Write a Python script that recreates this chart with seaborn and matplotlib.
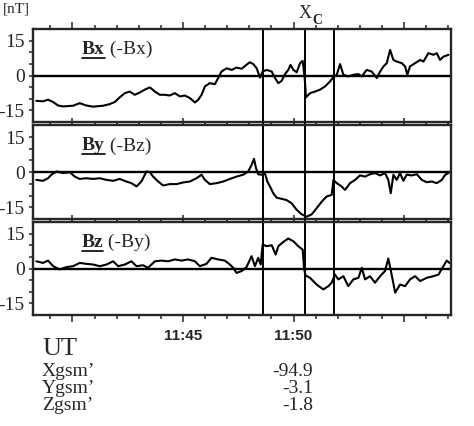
import matplotlib
matplotlib.use("Agg")
import matplotlib.pyplot as plt
import seaborn as sns
from matplotlib.ticker import MultipleLocator
from matplotlib.lines import Line2D

sns.set_style("ticks")
plt.rcParams["font.family"] = ["Liberation Serif", "DejaVu Serif"]

# time in minutes after 11:00 UT, field in nT
t_bx = [38.37, 38.67, 38.90, 39.13, 39.35, 39.58, 40.03, 40.33, 40.63, 40.94, 41.39, 41.69,
        41.92, 42.14, 42.37, 42.59, 42.82, 43.05, 43.27, 43.50, 43.73, 43.95, 44.18, 44.40,
        44.63, 44.86, 45.08, 45.31, 45.54, 45.69, 45.84, 45.99, 46.21, 46.44, 46.59, 46.74,
        46.97, 47.20, 47.42, 47.65, 47.87, 48.02, 48.18, 48.33, 48.48, 48.60, 48.78, 49.01,
        49.16, 49.31, 49.46, 49.61, 49.76, 49.86, 49.99, 50.14, 50.29, 50.41, 50.50, 50.56,
        50.74, 50.97, 51.19, 51.42, 51.64, 51.83, 51.95, 52.10, 52.25, 52.47, 52.70, 52.93,
        53.08, 53.30, 53.53, 53.76, 53.91, 54.06, 54.21, 54.36, 54.51, 54.66, 54.89, 55.04,
        55.14, 55.26, 55.49, 55.72, 55.87, 56.09, 56.32, 56.47, 56.62, 56.77, 57.00]
bx = [-10.9, -11.1, -10.4, -11.4, -12.9, -13.3, -13.0, -11.9, -12.9, -13.4, -13.0, -12.3,
      -11.4, -9.4, -7.6, -6.9, -8.3, -7.3, -6.1, -5.1, -6.9, -8.3, -8.3, -8.6,
      -7.6, -9.0, -8.6, -9.7, -11.6, -10.4, -8.3, -4.7, -3.3, -3.7, -1.1, 1.7,
      3.1, 2.4, 3.4, 2.9, 4.6, 5.7, 4.9, 3.1, -0.9, 1.7, 2.4, 1.7,
      -1.1, -3.3, -2.3, 0.6, 2.4, 4.6, 2.4, 1.4, 5.3, 6.3, -1.0, -9.4,
      -7.6, -6.9, -6.1, -4.7, -2.6, -0.4, 0.3, 4.9, 0.3, -0.4, 0.3, 0.6,
      -0.4, 2.4, 1.7, -1.1, 1.7, 3.9, 5.3, 11.0, 6.7, 6.0, 5.3, 3.9,
      0.3, 3.9, 5.3, 6.7, 6.0, 9.6, 8.9, 9.6, 6.7, 8.1, 8.9]

t_by = [38.37, 38.67, 38.90, 39.05, 39.28, 39.58, 39.88, 40.11, 40.33, 40.63, 40.94, 41.24,
        41.54, 41.84, 42.14, 42.44, 42.67, 42.90, 43.12, 43.35, 43.50, 43.65, 43.88, 44.10,
        44.40, 44.71, 45.01, 45.31, 45.61, 45.84, 45.99, 46.21, 46.52, 46.82, 47.12, 47.42,
        47.72, 47.95, 48.10, 48.21, 48.30, 48.40, 48.55, 48.70, 48.81, 48.93, 49.08, 49.23,
        49.46, 49.68, 49.91, 50.14, 50.36, 50.59, 50.82, 51.04, 51.27, 51.49, 51.72, 51.80,
        51.95, 52.17, 52.32, 52.55, 52.78, 53.00, 53.23, 53.45, 53.68, 53.91, 54.13, 54.28,
        54.39, 54.51, 54.66, 54.81, 54.96, 55.11, 55.34, 55.57, 55.79, 56.02, 56.25, 56.47,
        56.70, 56.85, 57.00]
by = [-3.3, -3.7, -2.6, -1.1, 0.3, -0.4, 0.0, -1.9, -2.9, -2.6, -2.9, -2.6,
      -3.3, -3.7, -2.9, -4.0, -4.7, -6.1, -4.0, 0.3, 0.0, -1.9, -4.0, -5.7,
      -5.1, -5.1, -4.4, -4.0, -2.6, -1.1, -3.3, -5.1, -4.7, -4.0, -2.9, -1.9,
      -1.1, 0.3, 3.1, 5.7, 1.7, -0.9, -1.1, -0.4, -4.0, -6.1, -9.0, -10.9,
      -11.4, -11.9, -13.3, -16.1, -18.0, -19.0, -18.0, -15.4, -12.6, -10.4, -9.7, -3.3,
      -4.7, -6.1, -7.6, -4.7, -3.3, -1.4, -1.9, -0.9, -0.4, -1.4, -0.4, -3.3,
      -9.0, -1.1, -3.3, -0.4, -3.7, -1.1, -1.4, -0.9, -3.3, -4.3, -4.0, -4.7,
      -3.3, -1.1, -0.4]

t_bz = [38.37, 38.67, 38.90, 39.13, 39.43, 39.73, 40.03, 40.33, 40.63, 40.94, 41.24, 41.54,
        41.84, 42.07, 42.37, 42.67, 42.90, 43.20, 43.42, 43.73, 44.03, 44.33, 44.63, 44.93,
        45.23, 45.54, 45.76, 46.06, 46.29, 46.59, 46.89, 47.12, 47.27, 47.42, 47.65, 47.87,
        48.10, 48.25, 48.40, 48.51, 48.60, 48.78, 49.01, 49.19, 49.31, 49.53, 49.76, 49.99,
        50.21, 50.41, 50.47, 50.53, 50.74, 51.04, 51.34, 51.57, 51.72, 51.87, 52.02, 52.25,
        52.47, 52.70, 52.93, 53.08, 53.23, 53.45, 53.68, 53.91, 54.13, 54.28, 54.43, 54.59,
        54.81, 55.04, 55.26, 55.49, 55.72, 56.02, 56.32, 56.55, 56.77, 56.92, 57.04]
bz = [3.1, 2.4, 3.4, 1.0, -0.4, 0.6, 1.0, 2.4, 2.0, 1.7, 1.0, 1.7,
      3.1, 1.0, 1.7, 3.1, 1.0, 1.4, 0.3, 3.1, 3.4, 3.1, 3.9, 3.4,
      3.9, 3.1, 1.0, 2.0, 4.6, 3.9, 3.4, 1.7, 0.3, -1.9, -1.1, 0.6,
      5.3, 1.0, 4.6, 1.7, 10.3, 9.6, 10.0, 6.0, 9.6, 11.4, 12.9, 11.7,
      9.6, 8.1, 0.3, -2.9, -4.0, -6.9, -9.0, -7.6, -6.1, -2.6, -4.7, -3.3,
      -7.6, -4.7, -4.0, 0.3, -4.7, -3.3, -6.1, -3.3, -1.1, 4.3, -2.6, -10.4,
      -6.9, -7.6, -4.7, -3.3, -5.4, -4.0, -3.3, -2.6, 1.0, 3.4, 2.4]

crossing_times = [48.60, 50.52, 51.83]
panel_names = [("Bx", " (-Bx)"), ("By", " (-Bz)"), ("Bz", " (-By)")]
coord_names = ["Xgsm’", "Ygsm’", "Zgsm’"]
coord_vals = ["-94.9", "-3.1", "-1.8"]

fig = plt.figure(figsize=(4.74, 4.26), dpi=100)
W, H = 474, 426
left, right = 33, 450.7
tops = [29, 125.3, 222]
bottoms = [122, 219, 315]

axes = []
series = [(t_bx, bx), (t_by, by), (t_bz, bz)]
for i, (tt, vv) in enumerate(series):
    ax = fig.add_axes([left / W, 1 - bottoms[i] / H, (right - left) / W, (bottoms[i] - tops[i]) / H])
    sns.lineplot(x=tt, y=vv, ax=ax, color="black", lw=1.5, estimator=None, sort=False)
    ax.axhline(0, color="black", lw=1.7)
    for xc in crossing_times:
        ax.axvline(xc, ymin=0, ymax=1 if i == 0 else 1.04, color="black", lw=1.4, clip_on=False)
    ax.set_xlim(38.22, 57.1)
    ax.set_ylim(-20, 20)
    ax.xaxis.set_major_locator(MultipleLocator(5))
    ax.xaxis.set_minor_locator(MultipleLocator(1))
    ax.tick_params(axis="x", which="both", top=True, bottom=True, direction="out",
                   labelbottom=False, width=1.1)
    ax.tick_params(axis="x", which="major", length=5)
    ax.tick_params(axis="x", which="minor", length=3)
    ax.set_yticks([-15, -10, -5, 0, 5, 10, 15])
    ax.set_yticklabels(["-15", "", "", "0", "", "", "15"])
    ax.tick_params(axis="y", direction="out", length=3, width=1.1, labelsize=14, pad=3)
    for sp in ax.spines.values():
        sp.set_linewidth(1.7)
    ax.set_xlabel("")
    ax.set_ylabel("")
    axes.append(ax)

axes[2].set_xticks([40, 45, 50, 55], labels=["", "11:45", "11:50", ""],
                   fontfamily="Liberation Sans", fontweight="bold", fontsize=11)
axes[2].tick_params(axis="x", labelbottom=True, pad=5)

# panel labels, first part bold and underlined
bold_texts = []
for ax, (b, rest) in zip(axes, panel_names):
    tb = ax.text(0.117, 0.78, b, transform=ax.transAxes, fontsize=14, fontweight="bold", va="center")
    bold_texts.append((ax, tb, rest))

fig.canvas.draw()
inv = fig.transFigure.inverted()
for ax, tb, rest in bold_texts:
    bb = tb.get_window_extent()
    (x0, y0), (x1, y1) = inv.transform([(bb.x0, bb.y0), (bb.x1, bb.y1)])
    fig.add_artist(Line2D([x0, x1], [y0, y0], color="black", lw=1.2))
    fig.text(x1, (y0 + y1) / 2, rest, fontsize=14, va="center")

fig.text(30 / W, 1 - 9 / H, "[nT]", ha="right", va="center", fontsize=11)
fig.text(299 / W, 1 - 14 / H, "X", fontsize=13, va="center")
fig.text(312 / W, 1 - 21 / H, "C", fontsize=10, fontweight="bold", va="center")

fig.text(42 / W, 1 - 355 / H, "UT", fontsize=19, va="baseline")
for i, (name, val) in enumerate(zip(coord_names, coord_vals)):
    yb = 1 - (376 + 17 * i) / H
    fig.text(42 / W, yb, name, fontsize=14, va="baseline")
    fig.text(313 / W, yb, val, fontsize=14, ha="right", va="baseline")

fig.savefig("out.png", dpi=100)
